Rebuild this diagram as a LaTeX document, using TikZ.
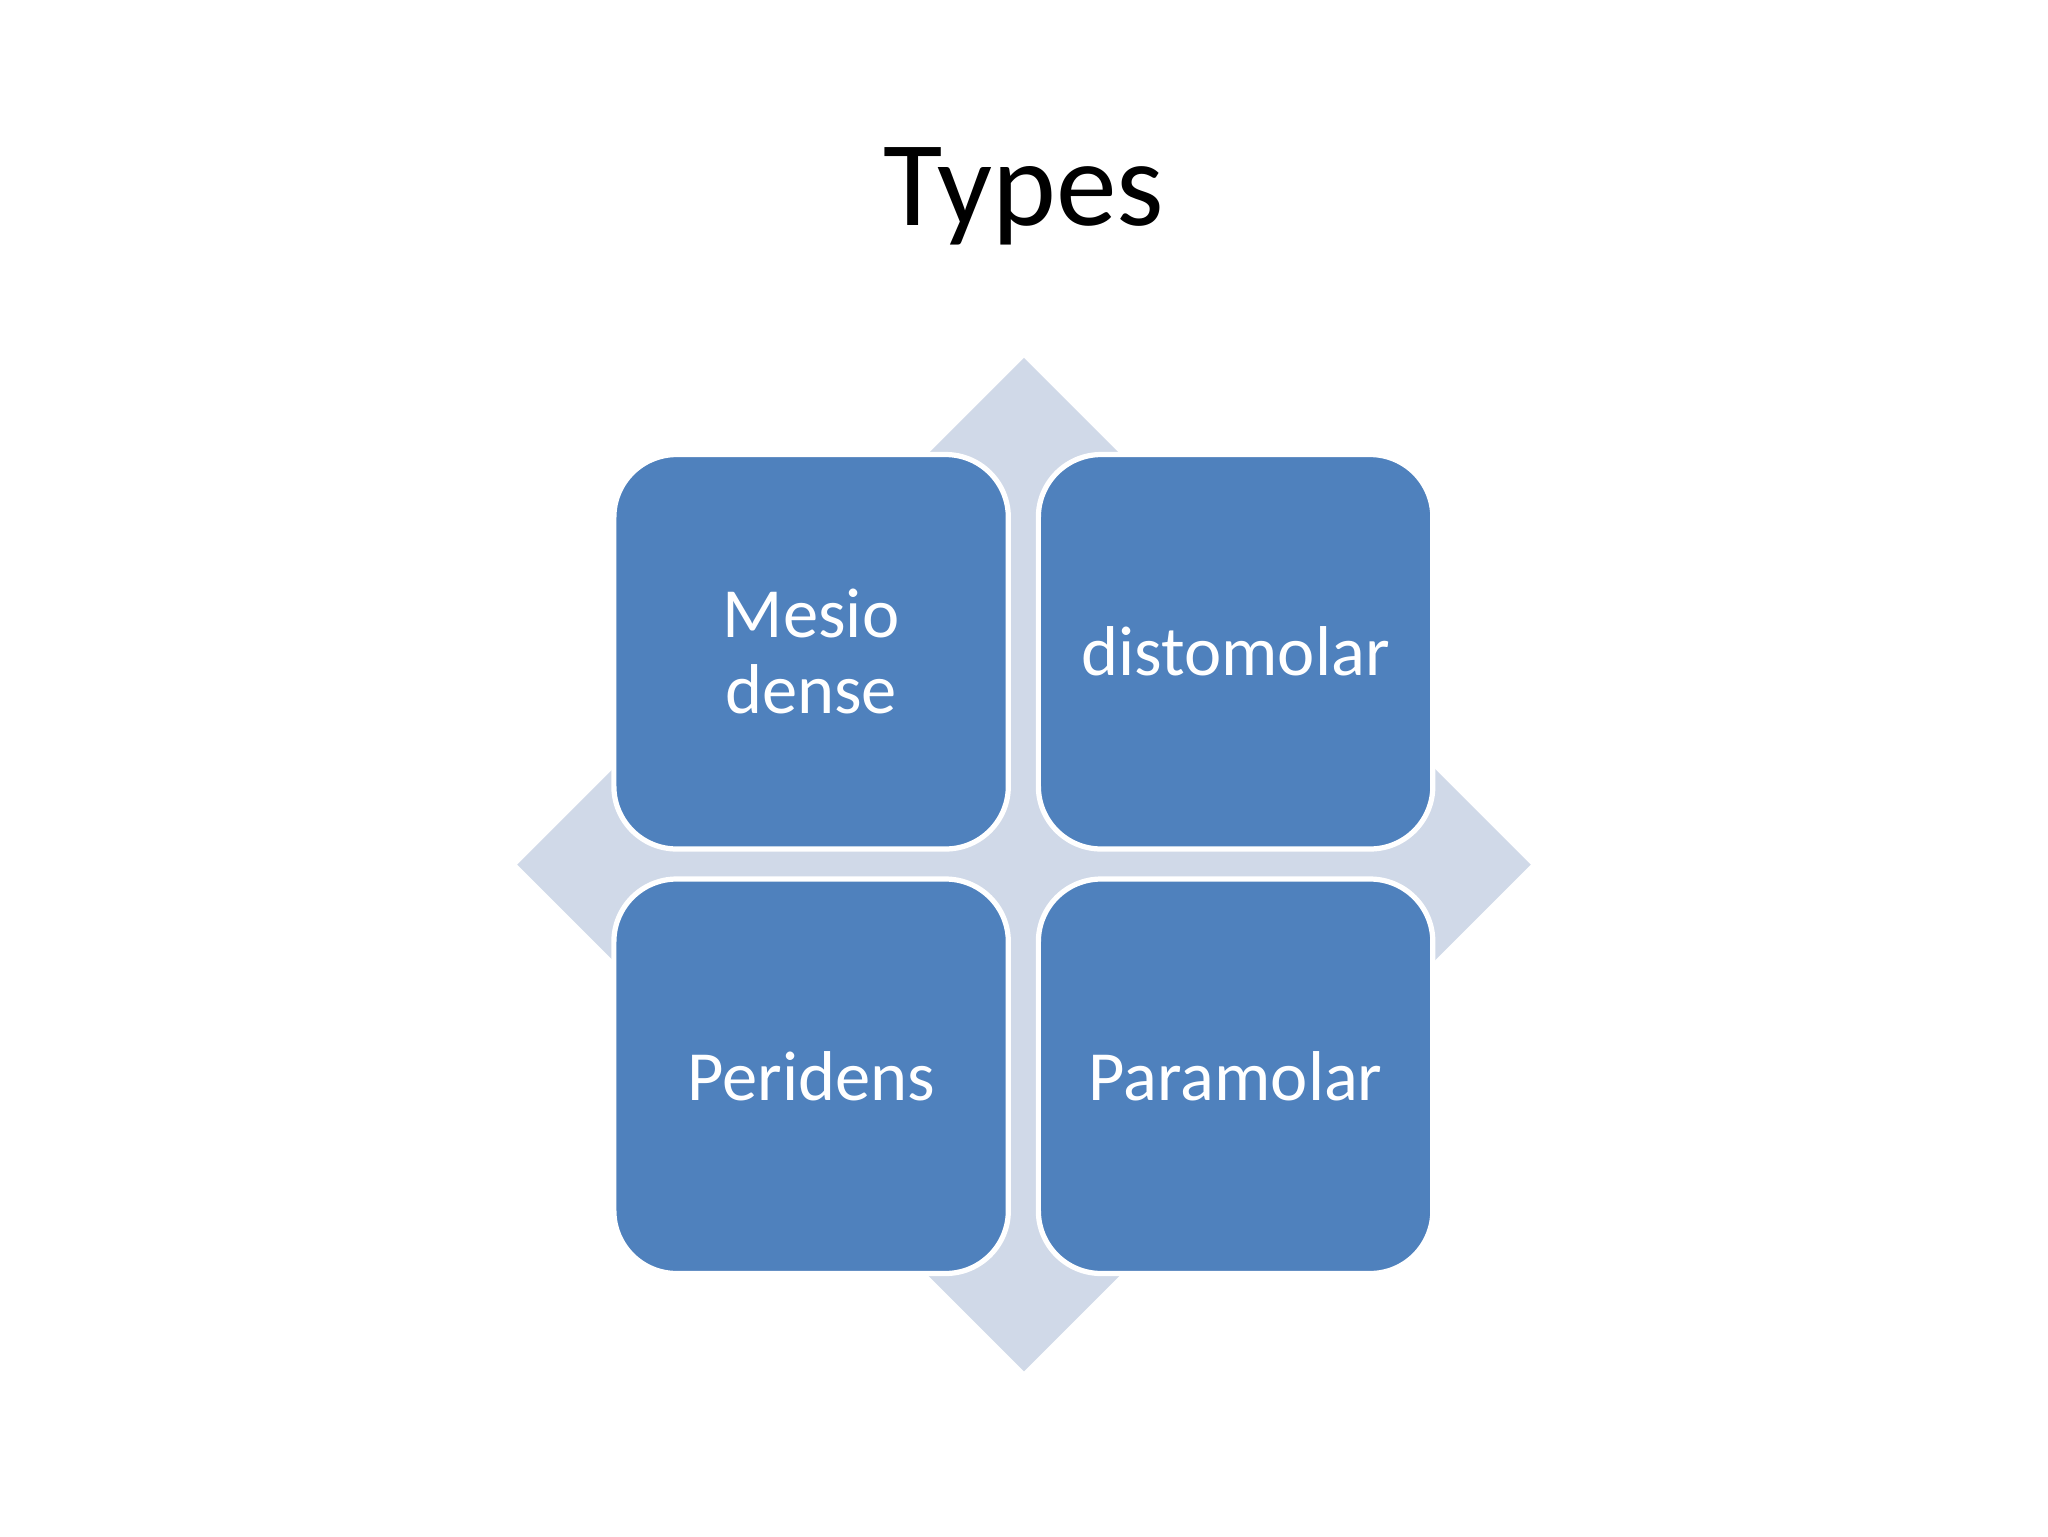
\documentclass[tikz,border=0pt]{standalone}
\usepackage{fontspec}
\setmainfont{Carlito}
\definecolor{diam}{HTML}{D0D9E8}
\definecolor{boxc}{HTML}{4F81BD}
\begin{document}
\begin{tikzpicture}[x=1pt,y=-1pt,
  qbox/.style={draw=white,line width=4pt,fill=boxc,rounded corners=48pt,minimum width=302pt,minimum height=302pt,text=white,align=center,font=\fontsize{54}{60}\selectfont,inner sep=0pt}]
\useasboundingbox (0,0) rectangle (1568,1176);
\node (title) at (784,150) {\fontsize{93}{100}\selectfont Types};
\fill[diam] (784,274) -- (1172,662) -- (784,1050) -- (396,662) -- cycle;
\node[qbox] (tl) at (621,499) {Mesio\\[-2pt]dense};
\node[qbox] (tr) at (946,499) {distomolar};
\node[qbox] (bl) at (621,824) {Peridens};
\node[qbox] (br) at (946,824) {Paramolar};
\end{tikzpicture}
\end{document}
